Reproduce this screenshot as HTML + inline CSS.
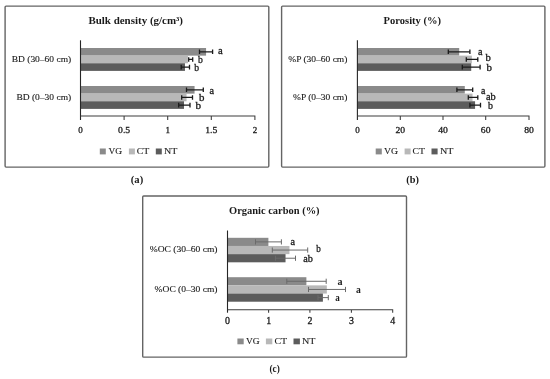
<!DOCTYPE html>
<html lang="en">
<head>
<meta charset="utf-8">
<title>Soil physical properties</title>
<style>
html,body{margin:0;padding:0;background:#fff;}
body{width:550px;height:379px;overflow:hidden;}
svg{display:block;font-family:"Liberation Serif","DejaVu Serif",serif;fill:#1a1a1a;}
text{stroke:#1a1a1a;stroke-width:0.12px;}
.s{stroke-width:0.3px;}
.b{font-weight:bold;stroke-width:0;}
</style>
</head>
<body>
<svg width="550" height="379" viewBox="0 0 550 379">
<rect x="0" y="0" width="550" height="379" fill="#ffffff"/>
<rect x="5.1" y="6.1" width="263.70" height="161.00" fill="#fff" stroke="#646464" stroke-width="1.4" rx="1" ry="1"/>
<text x="88.40" y="24.10" font-size="11" class="b" textLength="94.60" lengthAdjust="spacingAndGlyphs">Bulk density (g/cm³)</text>
<rect x="80.5" y="48.00" width="125.57" height="7.63" fill="#8a8a8a"/>
<rect x="80.5" y="55.63" width="107.43" height="7.63" fill="#b8b8b8"/>
<rect x="80.5" y="63.26" width="104.47" height="7.63" fill="#5c5c5c"/>
<rect x="80.5" y="86.00" width="114.06" height="7.63" fill="#8a8a8a"/>
<rect x="80.5" y="93.63" width="106.04" height="7.63" fill="#b8b8b8"/>
<rect x="80.5" y="101.26" width="103.51" height="7.63" fill="#5c5c5c"/>
<path d="M199.50 51.81H212.60M199.50 49.52V54.11M212.60 49.52V54.11" stroke="#1a1a1a" stroke-width="1.3" fill="none"/>
<path d="M188.70 59.45H192.70M188.70 57.15V61.74M192.70 57.15V61.74" stroke="#1a1a1a" stroke-width="1.3" fill="none"/>
<path d="M181.20 67.08H189.50M181.20 64.78V69.38M189.50 64.78V69.38" stroke="#1a1a1a" stroke-width="1.3" fill="none"/>
<path d="M186.50 89.81H203.30M186.50 87.52V92.11M203.30 87.52V92.11" stroke="#1a1a1a" stroke-width="1.3" fill="none"/>
<path d="M181.70 97.44H192.50M181.70 95.14V99.74M192.50 95.14V99.74" stroke="#1a1a1a" stroke-width="1.3" fill="none"/>
<path d="M178.70 105.08H190.00M178.70 102.78V107.38M190.00 102.78V107.38" stroke="#1a1a1a" stroke-width="1.3" fill="none"/>
<path d="M80.5 40.3V120.0" stroke="#262626" stroke-width="1.1" fill="none"/>
<path d="M80.5 116.0H255.4M124.1 116.0V120.0M167.7 116.0V120.0M211.3 116.0V120.0M254.9 116.0V120.0" stroke="#3c3c3c" stroke-width="1.05" fill="none"/>
<text x="80.50" y="132.70" font-size="9.0" class="s" text-anchor="middle">0</text>
<text x="124.10" y="132.70" font-size="9.0" class="s" text-anchor="middle" textLength="12.04" lengthAdjust="spacingAndGlyphs">0.5</text>
<text x="167.70" y="132.70" font-size="9.0" class="s" text-anchor="middle">1</text>
<text x="211.30" y="132.70" font-size="9.0" class="s" text-anchor="middle" textLength="12.04" lengthAdjust="spacingAndGlyphs">1.5</text>
<text x="254.90" y="132.70" font-size="9.0" class="s" text-anchor="middle">2</text>
<text x="11.70" y="61.90" font-size="9.0" textLength="59.50" lengthAdjust="spacingAndGlyphs">BD (30–60 cm)</text>
<text x="16.40" y="99.90" font-size="9.0" textLength="54.80" lengthAdjust="spacingAndGlyphs">BD (0–30 cm)</text>
<text x="218.10" y="53.90" font-size="10" class="s" textLength="4.70" lengthAdjust="spacingAndGlyphs">a</text>
<text x="198.00" y="62.70" font-size="10" class="s" textLength="4.80" lengthAdjust="spacingAndGlyphs">b</text>
<text x="194.20" y="70.90" font-size="10" class="s" textLength="4.80" lengthAdjust="spacingAndGlyphs">b</text>
<text x="209.50" y="94.00" font-size="10" class="s" textLength="4.50" lengthAdjust="spacingAndGlyphs">a</text>
<text x="199.00" y="101.30" font-size="10" class="s" textLength="5.40" lengthAdjust="spacingAndGlyphs">b</text>
<text x="195.50" y="109.30" font-size="10" class="s" textLength="5.50" lengthAdjust="spacingAndGlyphs">b</text>
<rect x="99.8" y="148.5" width="6.00" height="5.90" fill="#8a8a8a"/>
<text x="108.40" y="154.20" font-size="9.0" textLength="13.60" lengthAdjust="spacingAndGlyphs">VG</text>
<rect x="128.9" y="148.5" width="6.00" height="5.90" fill="#b8b8b8"/>
<text x="136.70" y="154.20" font-size="9.0" textLength="12.60" lengthAdjust="spacingAndGlyphs">CT</text>
<rect x="155.8" y="148.5" width="6.00" height="5.90" fill="#5c5c5c"/>
<text x="164.00" y="154.20" font-size="9.0" textLength="13.40" lengthAdjust="spacingAndGlyphs">NT</text>
<text x="130.80" y="182.50" font-size="10" class="b" textLength="12.40" lengthAdjust="spacingAndGlyphs">(a)</text>
<rect x="281.6" y="6.1" width="263.30" height="161.00" fill="#fff" stroke="#646464" stroke-width="1.4" rx="1" ry="1"/>
<text x="383.60" y="24.10" font-size="11" class="b" textLength="57.40" lengthAdjust="spacingAndGlyphs">Porosity (%)</text>
<rect x="357.4" y="48.00" width="101.79" height="7.63" fill="#8a8a8a"/>
<rect x="357.4" y="55.63" width="114.46" height="7.63" fill="#b8b8b8"/>
<rect x="357.4" y="63.26" width="113.82" height="7.63" fill="#5c5c5c"/>
<rect x="357.4" y="86.00" width="107.38" height="7.63" fill="#8a8a8a"/>
<rect x="357.4" y="93.63" width="115.11" height="7.63" fill="#b8b8b8"/>
<rect x="357.4" y="101.26" width="117.68" height="7.63" fill="#5c5c5c"/>
<path d="M448.30 51.81H469.90M448.30 49.52V54.11M469.90 49.52V54.11" stroke="#1a1a1a" stroke-width="1.3" fill="none"/>
<path d="M466.30 59.45H477.80M466.30 57.15V61.74M477.80 57.15V61.74" stroke="#1a1a1a" stroke-width="1.3" fill="none"/>
<path d="M462.30 67.08H480.10M462.30 64.78V69.38M480.10 64.78V69.38" stroke="#1a1a1a" stroke-width="1.3" fill="none"/>
<path d="M456.90 89.81H472.70M456.90 87.52V92.11M472.70 87.52V92.11" stroke="#1a1a1a" stroke-width="1.3" fill="none"/>
<path d="M468.30 97.44H477.80M468.30 95.14V99.74M477.80 95.14V99.74" stroke="#1a1a1a" stroke-width="1.3" fill="none"/>
<path d="M469.90 105.08H480.50M469.90 102.78V107.38M480.50 102.78V107.38" stroke="#1a1a1a" stroke-width="1.3" fill="none"/>
<path d="M357.4 40.3V120.0" stroke="#262626" stroke-width="1.1" fill="none"/>
<path d="M357.4 116.0H529.5M400.3 116.0V120.0M443.0 116.0V120.0M485.7 116.0V120.0M529.0 116.0V120.0" stroke="#3c3c3c" stroke-width="1.05" fill="none"/>
<text x="357.40" y="132.70" font-size="9.0" class="s" text-anchor="middle">0</text>
<text x="400.30" y="132.70" font-size="9.0" class="s" text-anchor="middle" textLength="9.63" lengthAdjust="spacingAndGlyphs">20</text>
<text x="443.00" y="132.70" font-size="9.0" class="s" text-anchor="middle" textLength="9.63" lengthAdjust="spacingAndGlyphs">40</text>
<text x="485.70" y="132.70" font-size="9.0" class="s" text-anchor="middle" textLength="9.63" lengthAdjust="spacingAndGlyphs">60</text>
<text x="529.00" y="132.70" font-size="9.0" class="s" text-anchor="middle" textLength="9.63" lengthAdjust="spacingAndGlyphs">80</text>
<text x="288.30" y="61.80" font-size="9.0" textLength="59.10" lengthAdjust="spacingAndGlyphs">%P (30–60 cm)</text>
<text x="293.00" y="99.90" font-size="9.0" textLength="54.40" lengthAdjust="spacingAndGlyphs">%P (0–30 cm)</text>
<text x="477.90" y="55.10" font-size="10" class="s" textLength="4.50" lengthAdjust="spacingAndGlyphs">a</text>
<text x="485.60" y="61.10" font-size="10" class="s" textLength="5.30" lengthAdjust="spacingAndGlyphs">b</text>
<text x="486.50" y="71.00" font-size="10" class="s" textLength="5.40" lengthAdjust="spacingAndGlyphs">b</text>
<text x="481.00" y="93.80" font-size="10" class="s" textLength="4.40" lengthAdjust="spacingAndGlyphs">a</text>
<text x="486.00" y="100.40" font-size="10" class="s" textLength="9.70" lengthAdjust="spacingAndGlyphs">ab</text>
<text x="488.10" y="109.00" font-size="10" class="s" textLength="4.90" lengthAdjust="spacingAndGlyphs">b</text>
<rect x="375.7" y="148.5" width="6.10" height="5.90" fill="#8a8a8a"/>
<text x="384.00" y="154.20" font-size="9.0" textLength="14.00" lengthAdjust="spacingAndGlyphs">VG</text>
<rect x="404.6" y="148.5" width="6.00" height="5.90" fill="#b8b8b8"/>
<text x="412.60" y="154.20" font-size="9.0" textLength="12.40" lengthAdjust="spacingAndGlyphs">CT</text>
<rect x="431.5" y="148.5" width="6.10" height="5.90" fill="#5c5c5c"/>
<text x="440.00" y="154.20" font-size="9.0" textLength="13.50" lengthAdjust="spacingAndGlyphs">NT</text>
<text x="406.30" y="182.50" font-size="10" class="b" textLength="12.60" lengthAdjust="spacingAndGlyphs">(b)</text>
<rect x="142.7" y="196.0" width="263.80" height="161.15" fill="#fff" stroke="#646464" stroke-width="1.4" rx="1" ry="1"/>
<text x="229.00" y="214.20" font-size="11" class="b" textLength="90.60" lengthAdjust="spacingAndGlyphs">Organic carbon (%)</text>
<rect x="227.5" y="237.80" width="40.89" height="8.17" fill="#8a8a8a"/>
<rect x="227.5" y="245.97" width="61.95" height="8.17" fill="#b8b8b8"/>
<rect x="227.5" y="254.14" width="58.03" height="8.17" fill="#5c5c5c"/>
<rect x="227.5" y="277.20" width="78.88" height="8.17" fill="#8a8a8a"/>
<rect x="227.5" y="285.37" width="99.33" height="8.17" fill="#b8b8b8"/>
<rect x="227.5" y="293.54" width="95.40" height="8.17" fill="#5c5c5c"/>
<path d="M255.50 241.89H281.40M255.50 239.29V244.49M281.40 239.29V244.49" stroke="#6a6a6a" stroke-width="1.0" fill="none"/>
<path d="M272.30 250.06H307.70M272.30 247.46V252.66M307.70 247.46V252.66" stroke="#6a6a6a" stroke-width="1.0" fill="none"/>
<path d="M275.50 258.23H295.50M275.50 255.63V260.83M295.50 255.63V260.83" stroke="#6a6a6a" stroke-width="1.0" fill="none"/>
<path d="M286.80 281.28H326.20M286.80 278.68V283.88M326.20 278.68V283.88" stroke="#6a6a6a" stroke-width="1.0" fill="none"/>
<path d="M308.50 289.45H345.50M308.50 286.85V292.06M345.50 286.85V292.06" stroke="#6a6a6a" stroke-width="1.0" fill="none"/>
<path d="M318.00 297.62H328.30M318.00 295.02V300.22M328.30 295.02V300.22" stroke="#6a6a6a" stroke-width="1.0" fill="none"/>
<path d="M227.5 230.5V312.7" stroke="#262626" stroke-width="1.1" fill="none"/>
<path d="M227.5 309.7H393.2M268.6 309.7V312.7M309.9 309.7V312.7M351.4 309.7V312.7M392.7 309.7V312.7" stroke="#3c3c3c" stroke-width="1.05" fill="none"/>
<text x="227.50" y="323.80" font-size="9.9" class="s" text-anchor="middle">0</text>
<text x="268.60" y="323.80" font-size="9.9" class="s" text-anchor="middle">1</text>
<text x="309.90" y="323.80" font-size="9.9" class="s" text-anchor="middle">2</text>
<text x="351.40" y="323.80" font-size="9.9" class="s" text-anchor="middle">3</text>
<text x="392.70" y="323.80" font-size="9.9" class="s" text-anchor="middle">4</text>
<text x="149.70" y="252.30" font-size="9.0" textLength="67.80" lengthAdjust="spacingAndGlyphs">%OC (30–60 cm)</text>
<text x="154.60" y="292.10" font-size="9.0" textLength="62.90" lengthAdjust="spacingAndGlyphs">%OC (0–30 cm)</text>
<text x="290.50" y="244.50" font-size="10" class="s" textLength="4.50" lengthAdjust="spacingAndGlyphs">a</text>
<text x="316.30" y="251.60" font-size="10" class="s" textLength="4.50" lengthAdjust="spacingAndGlyphs">b</text>
<text x="303.20" y="261.90" font-size="10" class="s" textLength="9.60" lengthAdjust="spacingAndGlyphs">ab</text>
<text x="337.60" y="285.30" font-size="10" class="b" textLength="5.00" lengthAdjust="spacingAndGlyphs">a</text>
<text x="356.10" y="293.30" font-size="10" class="b" textLength="4.80" lengthAdjust="spacingAndGlyphs">a</text>
<text x="335.30" y="301.30" font-size="10" class="b" textLength="4.50" lengthAdjust="spacingAndGlyphs">a</text>
<rect x="237.4" y="338.5" width="6.30" height="5.80" fill="#8a8a8a"/>
<text x="245.90" y="344.20" font-size="9.0" textLength="13.60" lengthAdjust="spacingAndGlyphs">VG</text>
<rect x="265.9" y="338.5" width="6.40" height="5.80" fill="#b8b8b8"/>
<text x="274.50" y="344.20" font-size="9.0" textLength="12.70" lengthAdjust="spacingAndGlyphs">CT</text>
<rect x="293.5" y="338.5" width="6.40" height="5.80" fill="#5c5c5c"/>
<text x="302.00" y="344.20" font-size="9.0" textLength="13.50" lengthAdjust="spacingAndGlyphs">NT</text>
<text x="269.50" y="372.20" font-size="10" class="b" textLength="10.30" lengthAdjust="spacingAndGlyphs">(c)</text>
</svg>
</body>
</html>
